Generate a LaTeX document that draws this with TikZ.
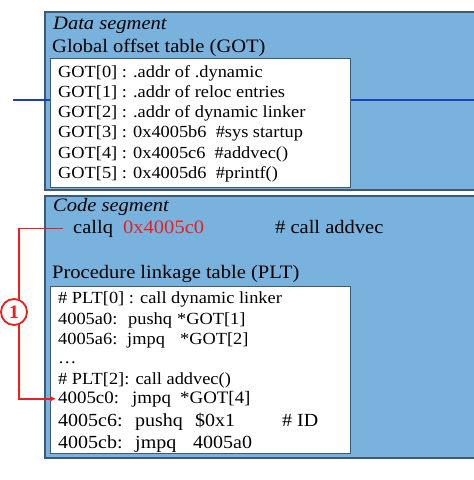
\documentclass[tikz,border=0pt]{standalone}
\usepackage{fontspec}
\setmainfont[FakeStretch=1.08]{Liberation Serif}
\usepackage{tikz}
\usetikzlibrary{arrows.meta,positioning}

\definecolor{segblue}{RGB}{122,178,222}
\definecolor{segline}{RGB}{60,90,120}
\definecolor{wireblue}{RGB}{30,60,190}
\definecolor{callred}{RGB}{232,32,30}

\tikzset{
  seg/.style={fill=segblue, draw=segline, line width=1.3pt},
  tbl/.style={fill=white, draw=segline, line width=1pt},
  txt/.style={anchor=base west, inner sep=0pt, font=\fontsize{17}{20}\selectfont},
  big/.style={txt, font=\fontsize{19}{22}\selectfont},
}
\newcommand{\cell}[2]{\makebox[#1pt][l]{#2}}

\begin{document}
\begin{tikzpicture}[x=1pt, y=-1pt]
  \useasboundingbox (0,0) rectangle (474,480);
  \clip (0,0) rectangle (474,480);
  % segments
  \draw[seg] (45,12) rectangle (490,190);
  \draw[seg] (45,196) rectangle (490,458);
  \coordinate (wirea) at (13,100);
  \coordinate (wireb) at (480,100);
  \draw[wireblue, line width=1.8pt] (wirea) -- (wireb);
  \draw[tbl] (50,58) rectangle (350,187);
  \draw[tbl] (50,286) rectangle (350,453);

  % data segment
  \node[big, font=\fontsize{19}{22}\selectfont\itshape] (datahd) at (53,29) {Data segment};
  \node[big] (gothd) at (52,52) {Global offset table (GOT)};
  \foreach \i/\t in {0/{.addr of .dynamic}, 1/{.addr of reloc entries},
                     2/{.addr of dynamic linker}, 3/{0x4005b6\ \ \#sys startup},
                     4/{0x4005c6\ \ \#addvec()}, 5/{0x4005d6\ \ \#printf()}}{
    \node[txt] (got\i) at (58,{77+20.3*\i}) {GOT[\i] : \t};
  }

  % code segment
  \node[big, font=\fontsize{19}{22}\selectfont\itshape] (codehd) at (53,211) {Code segment};
  \node[big] (callq) at (73,233) {callq};
  \node[big, text=callred] (addr) at (123,233) {0x4005c0};
  \node[big] (cmt) at (275,233) {\# call addvec};
  \node[big] (plthd) at (52,278) {Procedure linkage table (PLT)};

  \node[txt] (plt0) at (58,303) {\# PLT[0] : call dynamic linker};
  \node[txt] (plt1) at (58,324) {\cell{70}{4005a0:}\cell{49}{pushq}*GOT[1]};
  \node[txt] (plt2) at (58,344) {\cell{69}{4005a6:}\cell{53}{jmpq}*GOT[2]};
  \node[txt] (plt3) at (58,363) {\dots};
  \node[txt] (plt4) at (58,384) {\# PLT[2]: call addvec()};
  \node[txt, font=\fontsize{17.5}{20}\selectfont] (plt5) at (58,403) {\cell{74}{4005c0:}\cell{48}{jmpq}*GOT[4]};
  \node[big, font=\fontsize{18.5}{22}\selectfont] (plt6) at (58,426) {\cell{77}{4005c6:}\cell{60}{pushq}\cell{87}{\$0x1}\# ID};
  \node[big, font=\fontsize{18.5}{22}\selectfont] (plt7) at (58,448) {\cell{77}{4005cb:}\cell{58}{jmpq}4005a0};

  % call path
  \draw[callred, line width=1.8pt, -{Latex[length=6pt,width=6pt]}]
    ([xshift=-10pt]callq.west) -- ++(-44,0) |- ([xshift=-2pt]plt5.west);
  \node[circle, draw=callred, fill=white, line width=1.8pt, inner sep=0pt,
        minimum size=26pt, text=callred, font=\fontsize{19}{22}\selectfont\bfseries]
    (mark1) at (14,312) {1};
\end{tikzpicture}
\end{document}
